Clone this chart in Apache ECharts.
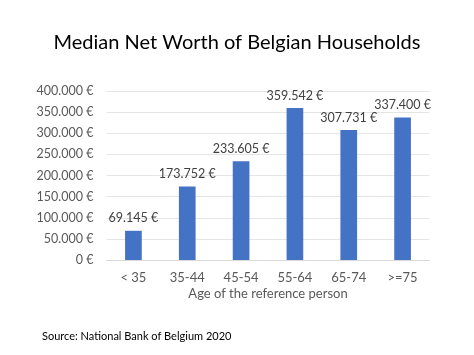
<!DOCTYPE html>
<html><head><meta charset="utf-8">
<script src="https://cdn.jsdelivr.net/npm/echarts@6/dist/echarts.min.js"></script>
<style>html,body{margin:0;padding:0;background:#fff}#c{width:474px;height:355px}</style>
</head><body><div id="c"></div>
<script>
const categories = ['< 35', '35-44', '45-54', '55-64', '65-74', '>=75'];
const values = [69145, 173752, 233605, 359542, 307731, 337400];
const yTicks = [0, 50000, 100000, 150000, 200000, 250000, 300000, 350000, 400000];

function fmt(v) {
  return String(Math.round(v)).replace(/\B(?=(\d{3})+(?!\d))/g, '.') + ' €';
}
const FONT = 'Lato, "Open Sans", sans-serif';
const chart = echarts.init(document.getElementById('c'), null, {renderer: 'canvas'});
chart.setOption({
  animation: false,
  backgroundColor: '#fff',
  title: [{
    text: 'Median Net Worth of Belgian Households',
    left: 'center', top: 28,
    textStyle: {fontFamily: FONT, fontSize: 20, fontWeight: 'normal', color: '#000'}
  }, {
    text: 'Source: National Bank of Belgium 2020',
    left: 37, top: 326,
    textStyle: {fontFamily: FONT, fontSize: 11, fontWeight: 'normal', color: '#000'}
  }],
  grid: {left: 106.5, right: 44.5, top: 91, bottom: 95, containLabel: false},
  xAxis: {
    type: 'category', data: categories,
    name: 'Age of the reference person', nameLocation: 'middle', nameGap: 27,
    nameTextStyle: {fontFamily: FONT, fontSize: 13, color: '#595959'},
    axisLine: {lineStyle: {color: '#d9d9d9'}},
    axisTick: {show: false},
    axisLabel: {fontFamily: FONT, fontSize: 13, color: '#595959', margin: 11}
  },
  yAxis: {
    type: 'value', min: yTicks[0], max: yTicks[yTicks.length - 1], interval: 50000,
    axisLine: {show: false}, axisTick: {show: false},
    splitLine: {lineStyle: {color: '#e5e5e5'}},
    axisLabel: {fontFamily: FONT, fontSize: 12.5, color: '#595959', margin: 13, formatter: fmt}
  },
  series: [{
    type: 'bar', data: values, barWidth: '31%',
    itemStyle: {color: '#4472c4'},
    label: {show: true, position: 'top', distance: 6, fontFamily: FONT, fontSize: 12.5, color: '#404040',
      formatter: p => fmt(p.value)}
  }]
});
</script></body></html>
